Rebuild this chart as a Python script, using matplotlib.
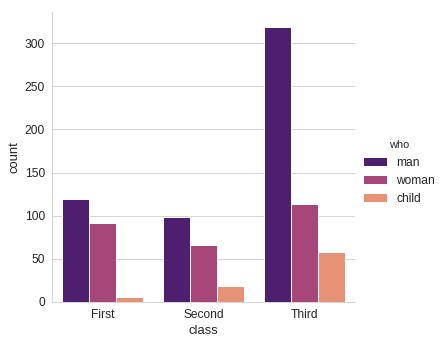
import matplotlib
matplotlib.use('Agg')
import matplotlib.pyplot as plt
import pandas as pd
import seaborn as sns

classes = ['First', 'Second', 'Third']
who = ['man', 'woman', 'child']
man = [119, 99, 319]
woman = [91, 66, 114]
child = [6, 19, 58]

df = pd.DataFrame({
    'class': classes * 3,
    'who': ['man'] * 3 + ['woman'] * 3 + ['child'] * 3,
    'count': man + woman + child,
})

sns.set_style('whitegrid')
plt.rcParams['font.family'] = ['Liberation Sans', 'DejaVu Sans']
fig = plt.figure(figsize=(443 / 72, 345 / 72), dpi=72)
ax = fig.add_axes([52 / 443, 43 / 345, 303 / 443, 290 / 345])
sns.barplot(data=df, x='class', y='count', hue='who', order=classes,
            hue_order=who, palette='magma', ax=ax, edgecolor='white', linewidth=1)
ax.set_xlabel('class', fontsize=13)
ax.set_ylabel('count', fontsize=13)
ax.tick_params(labelsize=12)
ax.set_ylim(0, 336)
sns.despine(ax=ax)
handles, labels = ax.get_legend_handles_labels()
ax.get_legend().remove()
fig.legend(handles, labels, title='who', loc='center left', bbox_to_anchor=(352 / 443, 0.5),
           frameon=False, fontsize=12, title_fontsize=11)
fig.savefig('out.png', dpi=72)
